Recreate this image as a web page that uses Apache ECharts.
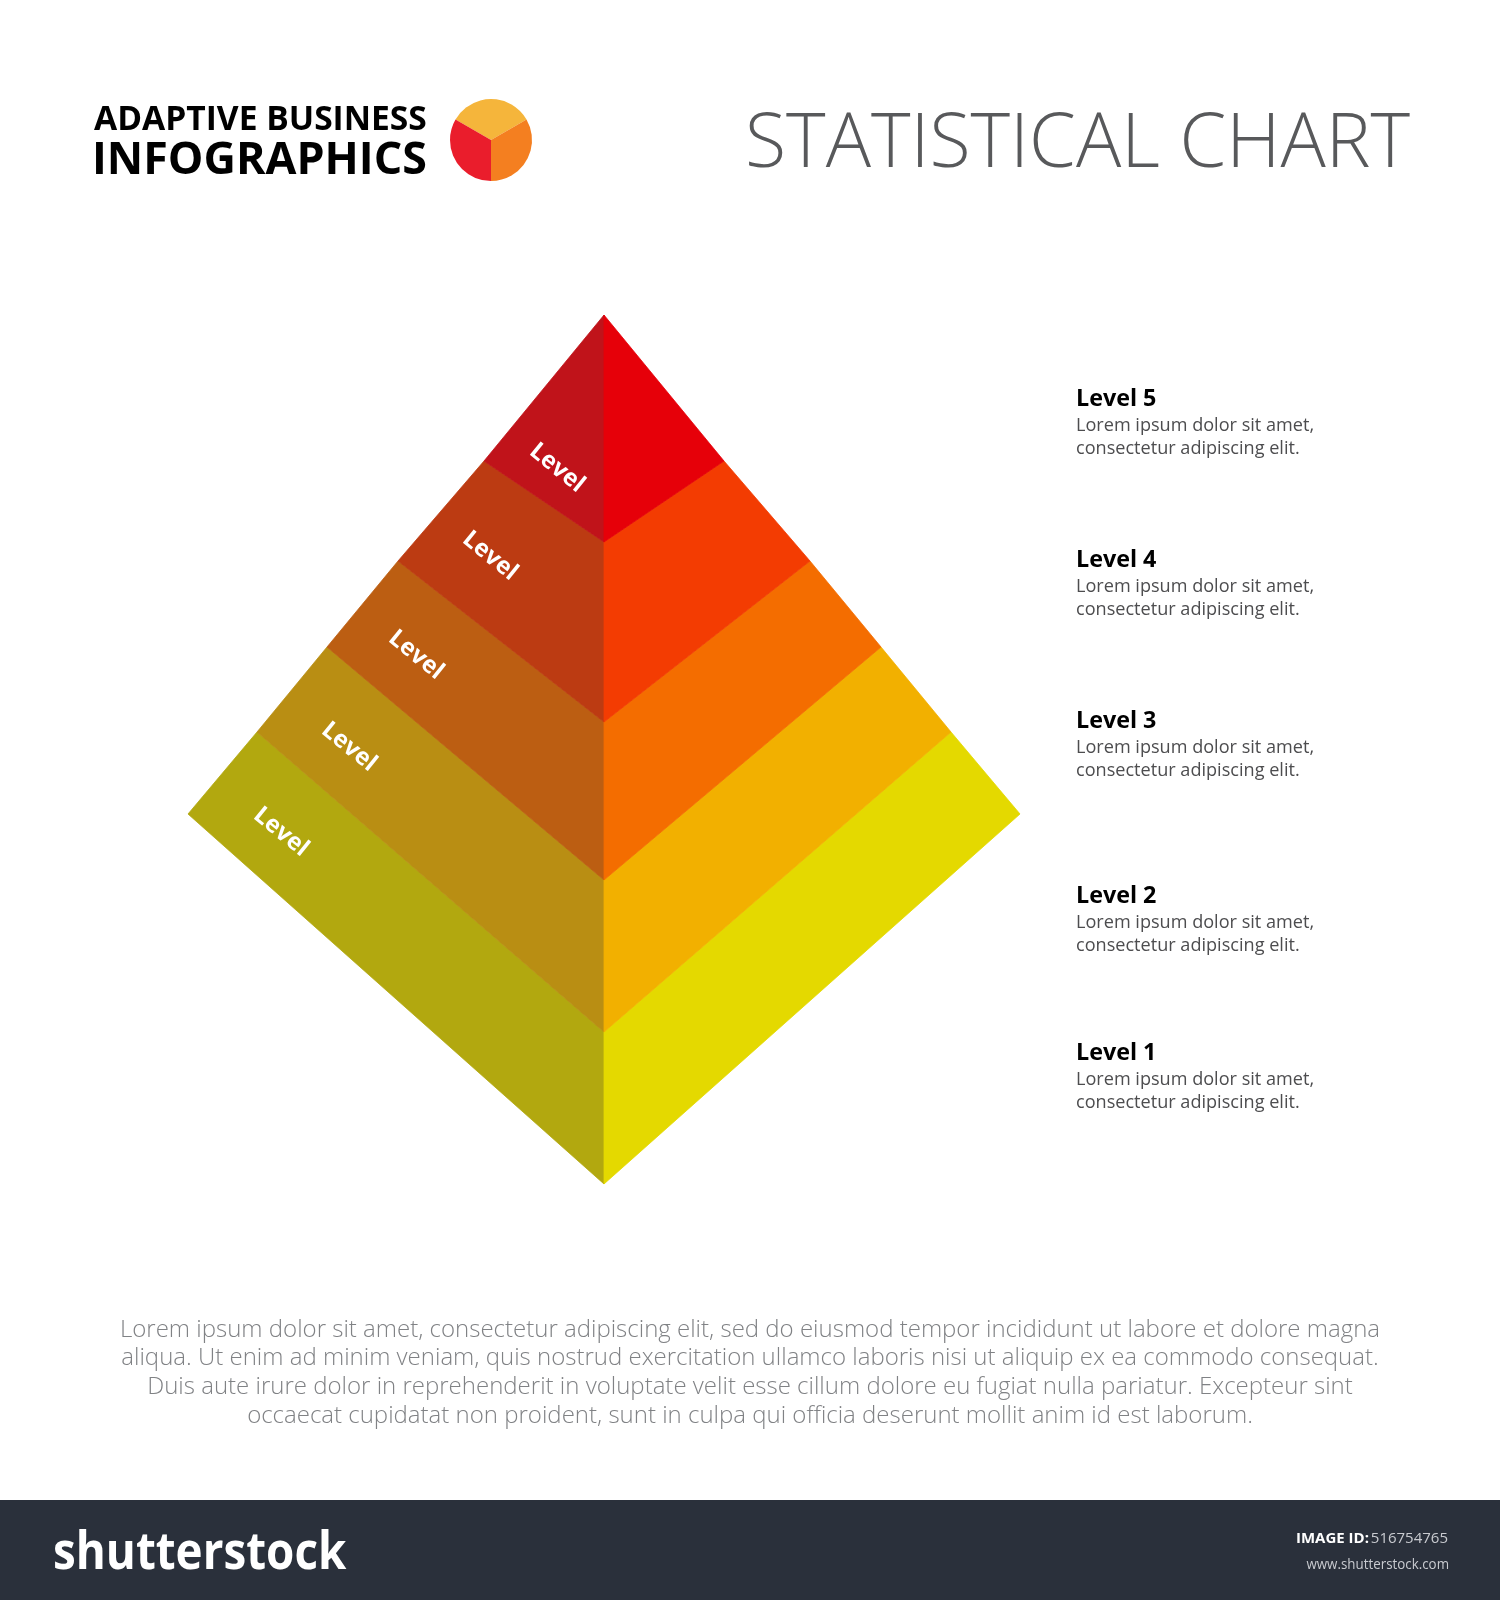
<!DOCTYPE html>
<html>
<head>
<meta charset="utf-8">
<title>Statistical chart</title>
<script src="https://cdn.jsdelivr.net/npm/echarts@6/dist/echarts.min.js"></script>
<style>
  html, body { margin: 0; padding: 0; background: #fff; }
  #chart { width: 1500px; height: 1600px; }
</style>
</head>
<body>
<div id="chart"></div>
<script>
// levels bottom to top, heights measured up from the bottom tip of the pyramid
const levelNames = ['Level 1', 'Level 2', 'Level 3', 'Level 4', 'Level 5'];
const ridgeTop = [152, 304, 462, 642, 869];
const edgeTop = [452, 537, 623, 723, 869];
const halfWidthTop = [347, 277, 206, 120, 0];
const cornerHeight = 370;
const cornerHalfWidth = 416;

const leftColors = ['#B2A80F', '#B98E13', '#BC5E12', '#BC3B12', '#C0131A'];
const rightColors = ['#E4D900', '#F2B000', '#F46D00', '#F33C02', '#E60009'];

const bodyLine1 = 'Lorem ipsum dolor sit amet,';
const bodyLine2 = 'consectetur adipiscing elit.';
const paragraph = [
  'Lorem ipsum dolor sit amet, consectetur adipiscing elit, sed do eiusmod tempor incididunt ut labore et dolore magna',
  'aliqua. Ut enim ad minim veniam, quis nostrud exercitation ullamco laboris nisi ut aliquip ex ea commodo consequat.',
  'Duis aute irure dolor in reprehenderit in voluptate velit esse cillum dolore eu fugiat nulla pariatur. Excepteur sint',
  'occaecat cupidatat non proident, sunt in culpa qui officia deserunt mollit anim id est laborum.'
];

const font = '"Open Sans", "Noto Sans", sans-serif';

var chart = echarts.init(document.getElementById('chart'));

// one row per level: ridgeBottom, ridgeTop, edgeBottom, edgeTop, halfBottom, halfTop
const rows = levelNames.map((name, i) => [
  i == 0 ? 0 : ridgeTop[i - 1],
  ridgeTop[i],
  i == 0 ? cornerHeight : edgeTop[i - 1],
  edgeTop[i],
  i == 0 ? cornerHalfWidth : halfWidthTop[i - 1],
  halfWidthTop[i]
]);

function face(side, colors) {
  return function (params, api) {
    let pts = [
      api.coord([0, api.value(0)]),
      api.coord([side * api.value(4), api.value(2)]),
      api.coord([side * api.value(5), api.value(3)]),
      api.coord([0, api.value(1)])
    ];
    let color = colors[params.dataIndex];
    return {
      type: 'polygon',
      shape: { points: pts },
      // thin stroke closes the hairline seams between bands
      style: { fill: color, stroke: color, lineWidth: 0.8 }
    };
  };
}

// y is the vertical middle of the text
function text(str, x, y, size, color, weight, extra) {
  return {
    type: 'text',
    z: 10,
    x: x,
    y: y,
    style: Object.assign({
      text: str,
      fill: color,
      font: (weight || 'normal') + ' ' + size + 'px ' + font,
      verticalAlign: 'middle'
    }, extra || {})
  };
}

function tag(x, y) {
  let el = text('Level', x, y, 24, '#fff', 'bold', { align: 'center' });
  el.rotation = -39 * Math.PI / 180;
  return el;
}

function logoSlice(start, end, color) {
  return {
    type: 'sector',
    z: 10,
    shape: {
      cx: 491, cy: 140, r0: 0, r: 41,
      startAngle: start * Math.PI / 180,
      endAngle: end * Math.PI / 180
    },
    style: { fill: color }
  };
}

let labelMiddles = [1053, 896, 721, 560, 399];
let tagSpots = [[281, 832], [349, 747], [416, 655], [490, 556], [557, 468]];

let logoText = text('shutterstock', 53, 1554, 52, '#fff', 'bold');
logoText.scaleX = 0.88;
let siteText = text('www.shutterstock.com', 1449, 1565, 15, '#C9CBD0', 'normal', { align: 'right' });
siteText.scaleX = 0.89;

let graphics = [
  { type: 'rect', z: 5, shape: { x: 0, y: 1500, width: 1500, height: 100 }, style: { fill: '#2A303B' } },
  logoSlice(-150, -30, '#F5B53B'),
  logoSlice(-30, 90, '#F47F20'),
  logoSlice(90, 210, '#EA1D2C'),
  text('ADAPTIVE BUSINESS', 94, 120, 33.6, '#000', 'bold'),
  text('INFOGRAPHICS', 92, 161, 44.8, '#000', 'bold'),
  text('STATISTICAL CHART', 745, 146, 75.4, '#58595B', '300'),
  logoText,
  text('IMAGE ID:', 1296, 1539, 15, '#fff', 'bold'),
  text('516754765', 1448, 1539, 15, '#C9CBD0', 'normal', { align: 'right' }),
  siteText
];
levelNames.forEach((name, i) => {
  graphics.push(text(name, 1076, labelMiddles[i], 23.3, '#000', 'bold'));
  graphics.push(text(bodyLine1, 1076, labelMiddles[i] + 27, 18.1, '#4D4D4F'));
  graphics.push(text(bodyLine2, 1076, labelMiddles[i] + 49.5, 18.1, '#4D4D4F'));
  graphics.push(tag(tagSpots[i][0], tagSpots[i][1]));
});
paragraph.forEach((line, i) => {
  graphics.push(text(line, 750, 1330 + i * 28.6, 24, '#808285', '300', { align: 'center' }));
});

chart.setOption({
  animation: false,
  backgroundColor: '#fff',
  grid: { left: 0, right: 0, top: 0, bottom: 0 },
  xAxis: { type: 'value', min: -604, max: 896, show: false },
  yAxis: { type: 'value', min: -416, max: 1184, show: false },
  series: [
    { type: 'custom', name: 'left', data: rows, renderItem: face(-1, leftColors), silent: true },
    { type: 'custom', name: 'right', data: rows, renderItem: face(1, rightColors), silent: true }
  ],
  graphic: { elements: graphics }
});

window.addEventListener('resize', function () {
  chart.resize();
});
</script>
</body>
</html>
